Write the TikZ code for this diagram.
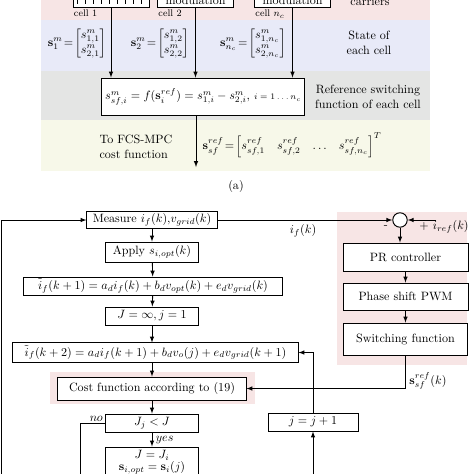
\documentclass[tikz,border=0pt]{standalone}
\usepackage{amsmath}
\usepackage{amssymb}
\usetikzlibrary{arrows,shapes,calc,positioning}
\definecolor{bandpink}{RGB}{247,229,229}
\definecolor{bandblue}{RGB}{232,234,248}
\definecolor{bandgray}{RGB}{228,229,228}
\definecolor{bandyellow}{RGB}{247,248,233}
\tikzstyle{block}=[draw=black, fill=white, line width=0.8pt, inner sep=1pt, align=center]
\tikzstyle{cellbox}=[block, minimum width=63pt, minimum height=31.5pt]
\tikzstyle{sumnode}=[draw=black, circle, fill=white, line width=0.8pt, minimum size=12pt, inner sep=0pt]
\tikzstyle{lbl}=[inner sep=1pt, align=center]
\tikzstyle{flow}=[->, line width=0.7pt]

\begin{document}
\begin{tikzpicture}[x=0.829pt,y=-0.829pt,>=latex]
  \clip (0,0) rectangle (474,474);

  % (a) coloured bands
  \fill[bandpink] (41,-20) rectangle (430,20);
  \fill[bandblue] (41,20) rectangle (430,71);
  \fill[bandgray] (41,71) rectangle (430,120);
  \fill[bandyellow] (41,120) rectangle (430,171);

  \node[cellbox] (cell1) at (111,-12) {};
  \foreach \x in {77,85,...,141}
    \draw[line width=0.5pt] (\x,-8) -- (\x,4);
  \node[cellbox] (cell2) at (195.5,-12) {};
  \node[lbl, anchor=base] at (195.5,4) {modulation};
  \node[cellbox] (celln) at (292.5,-12) {};
  \node[lbl, anchor=base] at (292.5,4) {modulation};
  \node[lbl, anchor=base] at (370,5) {carriers};

  \node[lbl, font=\footnotesize, below right=1pt and 0pt of cell1.south west] {cell 1};
  \node[lbl, font=\footnotesize, below right=1pt and 0pt of cell2.south west] {cell 2};
  \node[lbl, font=\footnotesize, below right=1pt and 0pt of celln.south west] {cell $n_c$};

  \node[lbl] (st1) at (77,43) {$\mathbf{s}_1^m\!=\!\begin{bmatrix} s^m_{1,1}\\ s^m_{2,1}\end{bmatrix}$};
  \node[lbl] (st2) at (160,43) {$\mathbf{s}_2^m\!=\!\begin{bmatrix} s^m_{1,2}\\ s^m_{2,2}\end{bmatrix}$};
  \node[lbl] (stn) at (253,43) {$\mathbf{s}_{n_c}^m\!=\!\begin{bmatrix} s^m_{1,n_c}\\ s^m_{2,n_c}\end{bmatrix}$};
  \node[lbl] (sttxt) at (369,43) {State of\\each cell};

  \node[block, minimum width=167.5pt, minimum height=30.7pt] (ref) at (203,96.5) {$s^m_{sf,i}=f(\mathbf{s}_i^{ref})=s^m_{1,i}-s^m_{2,i}$, {\scriptsize $i=1\ldots n_c$}};
  \node[lbl] (reftxt) at (368,97) {Reference switching\\function of each cell};

  \draw[flow] (cell1.south) -- (cell1.south |- ref.north);
  \draw[flow] (cell2.south) -- (cell2.south |- ref.north);
  \draw[flow] (celln.south) -- (celln.south |- ref.north);

  \coordinate (out) at (196,167);
  \draw[flow] (out |- ref.south) -- (out);
  \node[lbl, align=left] (mpctxt) at (136,147) {To FCS-MPC\\cost function};
  \node[lbl] (vec) at (292,145) {$\mathbf{s}^{ref}_{sf}\!=\!\begin{bmatrix} s^{ref}_{sf,1} & s^{ref}_{sf,2} & \ldots & s^{ref}_{sf,n_c}\end{bmatrix}^T$};
  \node[lbl] (capa) at (236,186) {(a)};

  % (b) highlights
  \fill[bandpink] (337,212) rectangle (467,365);
  \fill[bandpink] (50,372) rectangle (255,404);

  \node[block, minimum width=107.8pt, minimum height=14.1pt] (measure) at (152,220) {Measure $i_f(k)$,$v_{grid}(k)$};
  \node[block, minimum width=76.3pt, minimum height=16.6pt] (apply) at (152,252) {Apply $s_{i,opt}(k)$};
  \node[block, minimum width=215.5pt, minimum height=14.9pt] (pred1) at (153,286) {$\tilde{i}_f(k+1)=a_d i_f(k)+b_d v_{opt}(k)+e_d v_{grid}(k)$};
  \node[block, minimum width=76.3pt, minimum height=14.9pt] (init) at (152,316) {$J=\infty, j=1$};
  \node[block, minimum width=236.3pt, minimum height=15.8pt] (pred2) at (155.5,352.5) {$\tilde{i}_f(k+2)=a_d i_f(k+1)+b_d v_o(j)+e_d v_{grid}(k+1)$};
  \node[block, minimum width=155.9pt, minimum height=19.1pt] (cost) at (152,388.5) {Cost function according to (19)};
  \node[block, minimum width=76.3pt, minimum height=14.9pt] (compare) at (152,423) {$J_j<J$};
  \node[block, minimum width=76.3pt, minimum height=24.9pt] (update) at (152,462) {$J=J_i$\\[-2pt] $\mathbf{s}_{i,opt}=\mathbf{s}_i(j)$};
  \node[block, minimum width=74.6pt, minimum height=14.9pt] (jinc) at (313,422) {$j=j+1$};

  \node[sumnode] (sum) at (400,220) {};
  \node[block, minimum width=103.6pt, minimum height=24pt] (pr) at (405.5,257.5) {PR controller};
  \node[block, minimum width=103.6pt, minimum height=22.4pt] (pwm) at (405.5,296.5) {Phase shift PWM};
  \node[block, minimum width=102pt, minimum height=26.5pt] (sw) at (405.5,339) {Switching function};

  \draw[flow] (measure) -- (apply);
  \draw[flow] (apply) -- (pred1);
  \draw[flow] (pred1) -- (init);
  \draw[flow] (init.south) -- (init.south |- pred2.north);
  \draw[flow] (pred2.south -| cost.north) -- (cost.north);
  \draw[flow] (cost) -- (compare);
  \draw[flow] (compare) -- (update);
  \node[lbl, right=2pt of compare.south, yshift=-6pt] {$yes$};
  \node[lbl, anchor=south east, xshift=-1pt] at (compare.west) {$no$};

  \coordinate (loopbot) at (1.5,480);
  \coordinate (nobot) at (80,480);
  \coordinate (jbot) at (313,480);
  \coordinate (irefin) at (436,220);
  \draw[flow] (loopbot) |- (measure.west);
  \draw[line width=0.7pt] (compare.west) -| (nobot);
  \draw[flow] (jbot) -- (jinc.south);
  \draw[flow] (jinc.north) |- (pred2.east);

  \draw[flow] (measure.east) -- (sum.west);
  \draw[flow] (irefin) -- (sum.east);
  \draw[flow] (sum.south) -- (sum.south |- pr.north);
  \draw[flow] (pr) -- (pwm);
  \draw[flow] (pwm) -- (sw);
  \draw[flow] (sw.south) |- (cost.east);

  \node[lbl] at (303,231) {$i_f(k)$};
  \node[lbl] at (386,227) {-};
  \node[lbl, anchor=west] at (418,227) {+ $i_{ref}(k)$};
  \node[lbl, anchor=west] at (408,381) {$\mathbf{s}^{ref}_{sf}(k)$};
\end{tikzpicture}
\end{document}
